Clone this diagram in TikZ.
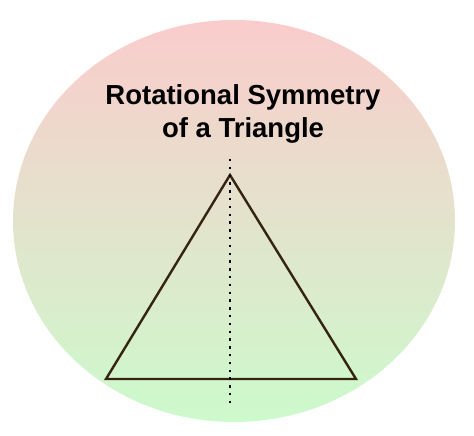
\documentclass[tikz,border=0pt]{standalone}
\usepackage{fontspec}
\setmainfont{Liberation Sans}
\definecolor{topfill}{RGB}{250,204,204}
\definecolor{midfill}{RGB}{234,226,206}
\definecolor{bottomfill}{RGB}{204,250,204}
\definecolor{edge}{RGB}{52,36,16}

\begin{document}
\begin{tikzpicture}[x=1pt,y=1pt]
\useasboundingbox (0,0) rectangle (474,436);
\shade[top color=topfill, middle color=midfill, bottom color=bottomfill] (234,215) ellipse (221 and 201);
\node[font=\bfseries\fontsize{27.5}{33}\selectfont, align=center, anchor=base, inner sep=0pt] (title) at (243,298) {Rotational Symmetry\\of a Triangle};
\coordinate (apex) at (230,261);
\coordinate (left) at (106,57);
\coordinate (right) at (356,57);
\coordinate (axtop) at (230,277);
\coordinate (axbot) at (230,30);
\draw[edge, line width=2.4pt, line join=miter] (apex) -- (right) -- (left) -- cycle;
\draw[black, line width=2.5pt, dash pattern=on 2.5pt off 5.3pt] (axtop) -- (axbot);
\end{tikzpicture}
\end{document}
